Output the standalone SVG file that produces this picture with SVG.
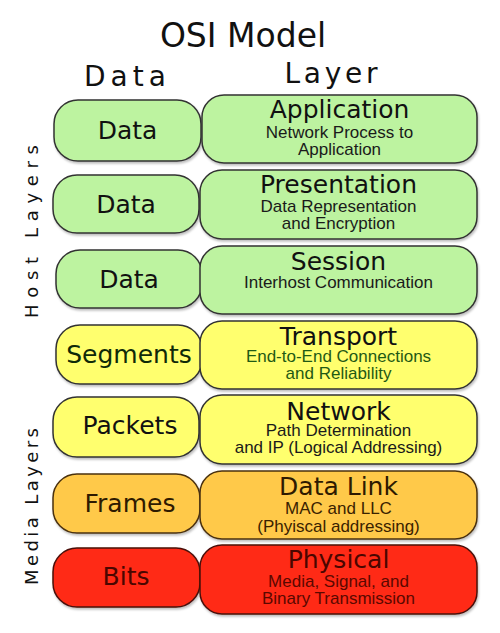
<svg xmlns="http://www.w3.org/2000/svg" width="500" height="633" viewBox="0 0 500 633">
  <defs>
    <filter id="sh" x="-10%" y="-10%" width="120%" height="130%">
      <feDropShadow dx="1" dy="2" stdDeviation="1.2" flood-color="#000" flood-opacity="0.25"/>
    </filter>
  </defs>
  <style>
    .box { stroke: #333; stroke-width: 1.5; filter: url(#sh); }
    .g { fill: #bdf3a0; }
    .y { fill: #ffff6e; }
    .o { fill: #ffc94a; stroke: #4a3010; }
    .r { fill: #ff2c12; stroke: #4a1008; }
    .big { font-family: "DejaVu Sans", Verdana, sans-serif; font-size: 25px; text-anchor: middle; fill: #111; }
    .sub { font-family: "Liberation Sans", Arial, sans-serif; font-size: 17px; text-anchor: middle; fill: #1a1a1a; }
    .hdr { font-family: "DejaVu Sans", Verdana, sans-serif; font-size: 28px; text-anchor: middle; fill: #111; }
    .side { font-family: "DejaVu Sans", Verdana, sans-serif; font-size: 18px; text-anchor: middle; fill: #111; }
  </style>
  <rect width="500" height="633" fill="#fff"/>

  <g id="title">
    <text x="243" y="47" font-family="DejaVu Sans, Verdana, sans-serif" font-size="33" text-anchor="middle" fill="#111">OSI Model</text>
  </g>
  <g id="headers">
    <text class="hdr" x="125" y="86" textLength="82" lengthAdjust="spacing">Data</text>
    <text class="hdr" x="331" y="83" textLength="93" lengthAdjust="spacing">Layer</text>
  </g>
  <g id="side-labels">
    <text class="side" transform="translate(37.5,231.5) rotate(-90)" textLength="173" lengthAdjust="spacing">Host Layers</text>
    <text class="side" transform="translate(37.5,506.5) rotate(-90)" textLength="157" lengthAdjust="spacing">Media Layers</text>
  </g>

  <g id="data-application">
    <rect class="box g" x="54" y="100" width="147" height="61" rx="24"/>
    <text class="big" x="127.5" y="139">Data</text>
  </g>
  <g id="layer-application">
    <rect class="box g" x="202" y="95" width="275" height="68" rx="22"/>
    <text class="big" x="339.5" y="118">Application</text>
    <text class="sub" x="339.5" y="138">Network Process to</text>
    <text class="sub" x="339.5" y="155">Application</text>
  </g>

  <g id="data-presentation">
    <rect class="box g" x="53" y="175" width="146" height="58" rx="24"/>
    <text class="big" x="126" y="213">Data</text>
  </g>
  <g id="layer-presentation">
    <rect class="box g" x="200" y="170" width="277" height="69" rx="22"/>
    <text class="big" x="338.5" y="193">Presentation</text>
    <text class="sub" x="338.5" y="212">Data Representation</text>
    <text class="sub" x="338.5" y="229">and Encryption</text>
  </g>

  <g id="data-session">
    <rect class="box g" x="56" y="250" width="146" height="58" rx="24"/>
    <text class="big" x="129" y="288">Data</text>
  </g>
  <g id="layer-session">
    <rect class="box g" x="200" y="246" width="277" height="68" rx="22"/>
    <text class="big" x="338.5" y="270">Session</text>
    <text class="sub" x="338.5" y="288">Interhost Communication</text>
  </g>

  <g id="data-transport">
    <rect class="box y" x="56" y="325" width="146" height="59" rx="24"/>
    <text class="big" x="129" y="363" style="fill:#0f2a08">Segments</text>
  </g>
  <g id="layer-transport">
    <rect class="box y" x="200" y="321" width="277" height="68" rx="22"/>
    <text class="big" x="338.5" y="345">Transport</text>
    <text class="sub" x="338.5" y="362" style="fill:#1f5a14">End-to-End Connections</text>
    <text class="sub" x="338.5" y="379" style="fill:#1f5a14">and Reliability</text>
  </g>

  <g id="data-network">
    <rect class="box y" x="53" y="397" width="146" height="60" rx="24"/>
    <text class="big" x="130" y="434">Packets</text>
  </g>
  <g id="layer-network">
    <rect class="box y" x="200" y="395" width="277" height="69" rx="22"/>
    <text class="big" x="338.5" y="420">Network</text>
    <text class="sub" x="338.5" y="436">Path Determination</text>
    <text class="sub" x="338.5" y="453">and IP (Logical Addressing)</text>
  </g>

  <g id="data-datalink">
    <rect class="box o" x="53" y="474" width="147" height="59" rx="24"/>
    <text class="big" x="130" y="512" style="fill:#2e1a00">Frames</text>
  </g>
  <g id="layer-datalink">
    <rect class="box o" x="200" y="471" width="277" height="68" rx="22"/>
    <text class="big" x="338.5" y="495" style="fill:#2e1a00">Data Link</text>
    <text class="sub" x="338.5" y="514" style="fill:#3a2200">MAC and LLC</text>
    <text class="sub" x="338.5" y="532" style="fill:#3a2200">(Phyiscal addressing)</text>
  </g>

  <g id="data-physical">
    <rect class="box r" x="53" y="548" width="147" height="59" rx="24"/>
    <text class="big" x="126" y="585" style="fill:#4a0600">Bits</text>
  </g>
  <g id="layer-physical">
    <rect class="box r" x="200" y="545" width="277" height="69" rx="22"/>
    <text class="big" x="338.5" y="568" style="fill:#4a0600">Physical</text>
    <text class="sub" x="338.5" y="587" style="fill:#5a0800">Media, Signal, and</text>
    <text class="sub" x="338.5" y="604" style="fill:#5a0800">Binary Transmission</text>
  </g>

  <g id="connectors"/>
</svg>
